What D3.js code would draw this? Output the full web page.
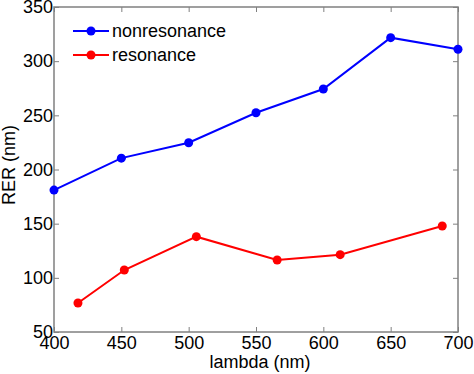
<!DOCTYPE html>
<html><head><meta charset="utf-8">
<script src="https://cdn.jsdelivr.net/npm/d3@7"></script>
<style>body{margin:0;background:#fff}svg{display:block}text{font-family:"Liberation Sans",Arial,sans-serif}</style>
</head><body>
<script>
const xTicks = [400,450,500,550,600,650,700];
const yTicks = [50,100,150,200,250,300,350];
const nonresX = [400,450,500,550,600,650,700];
const nonresY = [181,210.5,224.7,252.4,274.3,321.7,311];
const resX = [417.8,452.2,505.7,565.7,612.5,688.3];
const resY = [76.8,107.2,138,116.5,121.4,147.8];
const seriesNames = ["nonresonance","resonance"];
const colors = ["#0000ff","#ff0000"];

const W=474,H=374;
const svg=d3.select("body").append("svg").attr("width",W).attr("height",H);
const x=d3.scaleLinear().domain([400,700]).range([54,458]);
const y=d3.scaleLinear().domain([50,350]).range([332,7]);
const axisColor="#808080";

// frame
svg.append("rect").attr("x",54).attr("y",7).attr("width",404).attr("height",325)
  .attr("fill","none").attr("stroke",axisColor).attr("stroke-width",1.5);

function styleAxis(g){
  g.select(".domain").remove();
  g.selectAll(".tick line").attr("stroke",axisColor);
  g.selectAll(".tick text").attr("fill","#000").style("font-size","18px");
}
svg.append("g").attr("transform","translate(0,332)")
  .call(d3.axisBottom(x).tickValues(xTicks).tickSize(-5).tickPadding(4).tickFormat(d3.format("d")))
  .call(styleAxis);
svg.append("g").attr("transform","translate(0,7)")
  .call(d3.axisTop(x).tickValues(xTicks).tickSize(-5).tickFormat(""))
  .call(styleAxis);
svg.append("g").attr("transform","translate(54,0)")
  .call(d3.axisLeft(y).tickValues(yTicks).tickSize(-5).tickPadding(1).tickFormat(d3.format("d")))
  .call(styleAxis);
svg.append("g").attr("transform","translate(458,0)")
  .call(d3.axisRight(y).tickValues(yTicks).tickSize(-5).tickFormat(""))
  .call(styleAxis);

const data=[d3.zip(nonresX,nonresY),d3.zip(resX,resY)];
const line=d3.line().x(d=>x(d[0])).y(d=>y(d[1]));
data.forEach((s,i)=>{
  svg.append("path").datum(s).attr("d",line).attr("fill","none")
    .attr("stroke",colors[i]).attr("stroke-width",2);
  svg.selectAll(null).data(s).enter().append("circle")
    .attr("cx",d=>x(d[0])).attr("cy",d=>y(d[1])).attr("r",4.5).attr("fill",colors[i]);
});

// legend
seriesNames.forEach((n,i)=>{
  const ly=31+i*24;
  svg.append("line").attr("x1",73).attr("x2",109).attr("y1",ly).attr("y2",ly)
    .attr("stroke",colors[i]).attr("stroke-width",2);
  svg.append("circle").attr("cx",91).attr("cy",ly).attr("r",4.5).attr("fill",colors[i]);
  svg.append("text").attr("x",112).attr("y",ly+6).text(n).style("font-size","18px");
});

svg.append("text").attr("x",260).attr("y",368).attr("text-anchor","middle")
  .style("font-size","18px").text("lambda (nm)");
svg.append("text").attr("transform","translate(15,165) rotate(-90)").attr("text-anchor","middle")
  .style("font-size","18px").text("RER (nm)");
</script>
</body></html>
